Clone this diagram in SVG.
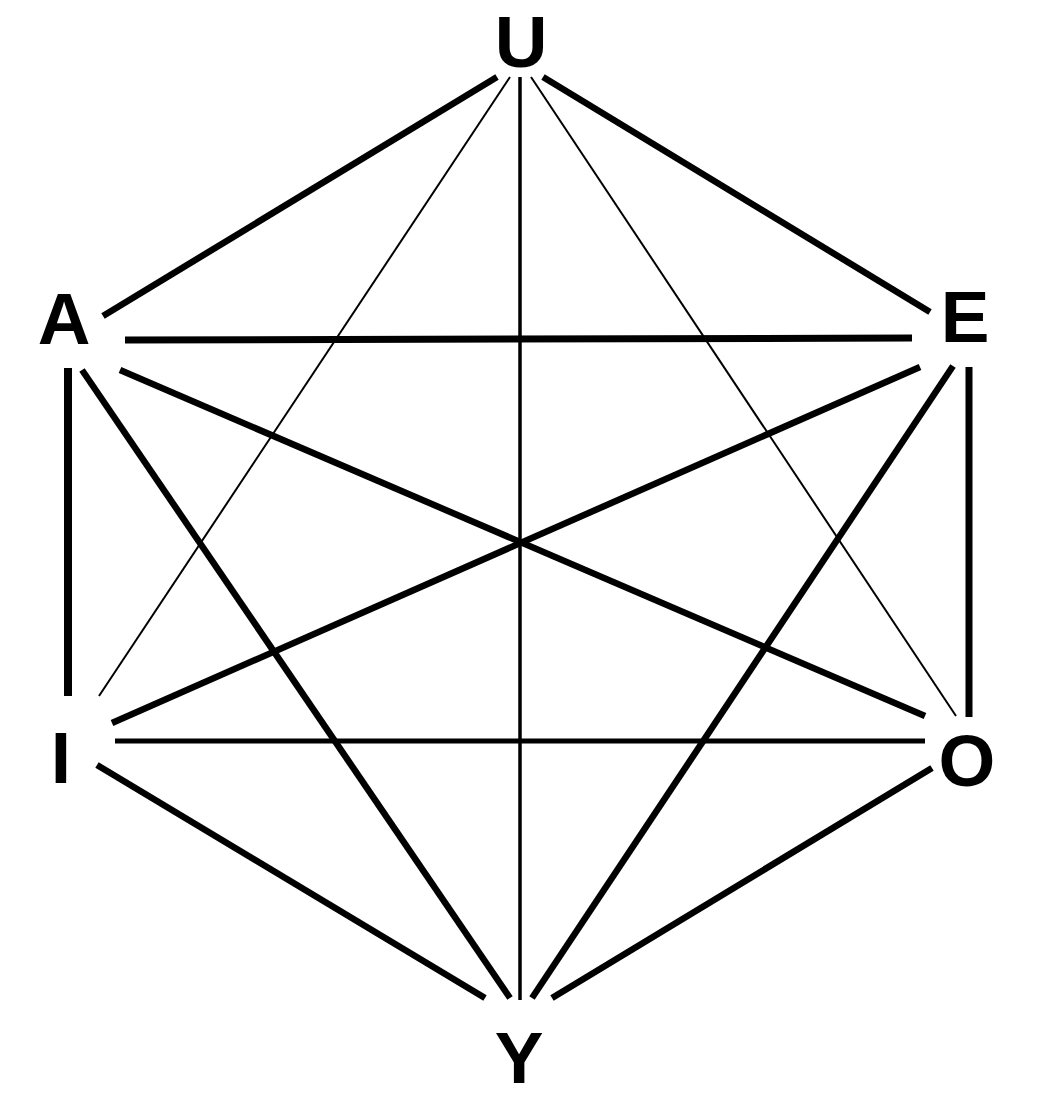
<svg xmlns="http://www.w3.org/2000/svg" width="1044" height="1108" viewBox="0 0 1044 1108">
<style>
.lbl{font-family:"Liberation Sans",Arial,sans-serif;font-weight:bold;font-size:73px;fill:#000;text-anchor:middle}
.thick{stroke:#000;stroke-width:6.5;fill:none}
.thin{stroke:#000;stroke-width:2;fill:none}
.mid{stroke:#000;stroke-width:3.5;fill:none}
</style>
<rect width="1044" height="1108" fill="#fff"/>
<g id="connectors">
<line class="thick" x1="497" y1="77" x2="103" y2="316"/>
<line class="thick" x1="543" y1="77" x2="930" y2="312"/>
<line class="thin" x1="510" y1="77" x2="99" y2="696"/>
<line class="thin" x1="531" y1="77" x2="956" y2="716"/>
<line class="mid" x1="520" y1="77" x2="520" y2="1000"/>
<line class="thick" x1="125" y1="340" x2="912" y2="338" style="stroke-width:7"/>
<line class="thick" x1="120" y1="370" x2="925" y2="716"/>
<line class="thick" x1="920" y1="367" x2="112" y2="723"/>
<line class="thick" x1="68" y1="368" x2="68" y2="696" style="stroke-width:8"/>
<line class="thick" x1="969" y1="367" x2="969" y2="717" style="stroke-width:7"/>
<line class="thick" x1="82" y1="370" x2="510" y2="998"/>
<line class="thick" x1="953" y1="366" x2="532" y2="998"/>
<line class="thick" x1="115" y1="741" x2="925" y2="741" style="stroke-width:5"/>
<line class="thick" x1="97" y1="765" x2="485" y2="998"/>
<line class="thick" x1="932" y1="768" x2="552" y2="998"/>
</g>
<g id="node-U"><text class="lbl" x="521" y="67">U</text></g>
<g id="node-A"><text class="lbl" x="64" y="344">A</text></g>
<g id="node-E"><text class="lbl" x="965" y="342">E</text></g>
<g id="node-I"><text class="lbl" x="61" y="783">I</text></g>
<g id="node-O"><text class="lbl" x="967" y="786">O</text></g>
<g id="node-Y"><text class="lbl" x="519" y="1083">Y</text></g>
</svg>
